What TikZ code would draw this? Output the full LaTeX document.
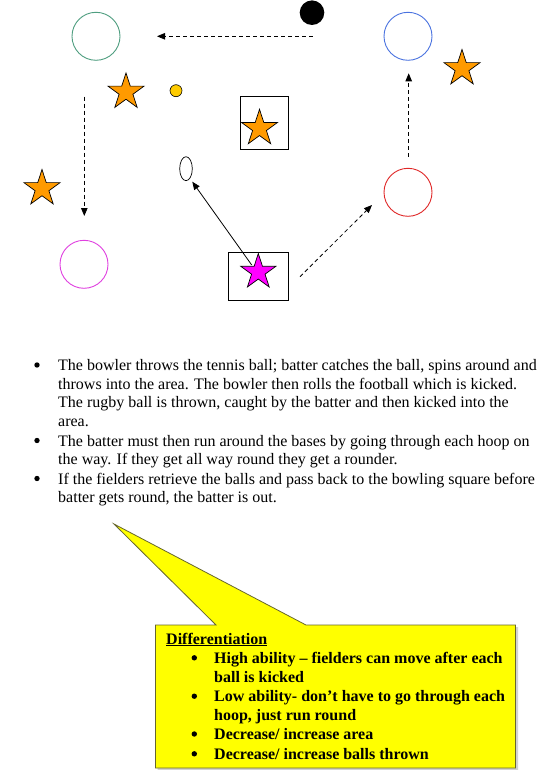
\documentclass[tikz,border=0pt]{standalone}
\usepackage{fontspec}
\setmainfont{Liberation Serif}
\usetikzlibrary{arrows.meta,shapes.geometric}
\definecolor{hoopgreen}{HTML}{4F9E80}
\definecolor{hoopblue}{HTML}{4A73E0}
\definecolor{hoopred}{HTML}{E02828}
\definecolor{hooppink}{HTML}{E040E0}
\definecolor{starorange}{HTML}{FF9A00}
\definecolor{starpink}{HTML}{FF00FF}
\definecolor{ballyellow}{HTML}{FFCC00}
\definecolor{calloutyellow}{HTML}{FFFF00}
\definecolor{calloutedge}{HTML}{66662E}
\tikzset{
  hoop/.style={circle, draw=#1, line width=0.9pt, minimum size=48pt, inner sep=0pt},
  fielder/.style={star, star points=5, star point ratio=2.618, draw=black, line width=0.7pt,
    fill=#1, minimum size=38pt, inner sep=0pt},
  squarebox/.style={draw=black, line width=0.9pt, inner sep=0pt},
  runarrow/.style={line width=0.8pt, dash pattern=on 4pt off 3pt, -{Triangle[length=8pt,width=6.5pt]}},
  throwarrow/.style={line width=0.8pt, -{Triangle[length=8pt,width=6.5pt]}},
  txt/.style={anchor=base west, inner sep=0pt, font=\fontsize{16}{18.5}\selectfont},
  btxt/.style={anchor=base west, inner sep=0pt, font=\fontsize{16}{18.5}\selectfont\bfseries},
  bul/.style={circle, fill=black, minimum size=5.4pt, inner sep=0pt},
}
\begin{document}
\begin{tikzpicture}[x=1pt, y=-1pt]
\useasboundingbox (0,0) rectangle (553,770);
\fill[white] (0,0) rectangle (553,770);

% boxes
\node[squarebox, minimum width=47.5pt, minimum height=52.5pt] (box1) at (264.5,123) {};
\node[squarebox, minimum width=60pt, minimum height=48pt] (box2) at (258.3,276.3) {};

% hoops
\node[hoop=hoopgreen] (hoopA) at (96,36.3) {};
\node[hoop=hoopblue] (hoopB) at (408,36.3) {};
\node[hoop=hoopred] (hoopC) at (408,192.3) {};
\node[hoop=hooppink] (hoopD) at (84,264.3) {};

% balls
\node[circle, fill=black, minimum size=24.6pt, inner sep=0pt] (football) at (312,12.7) {};
\node[circle, draw=black, fill=ballyellow, line width=0.6pt, minimum size=12pt, inner sep=0pt] (tennis) at (176,90.7) {};
\node[ellipse, draw=black, line width=0.7pt, minimum width=12.6pt, minimum height=24pt, inner sep=0pt] (rugby) at (186,168.7) {};

% fielders
\node[fielder=starorange] (f1) at (126,92) {};
\node[fielder=starorange] (f2) at (462,68.5) {};
\node[fielder=starorange] (f3) at (42,188.5) {};
\node[fielder=starorange] (f4) at (259.5,128.3) {};
\node[fielder=starpink, minimum size=37pt] (batter) at (258.3,272) {};

% arrows
\coordinate (a1s) at (312.7,36.3);
\coordinate (a1e) at (157,36.3);
\draw[runarrow] (a1s) -- (a1e);
\coordinate (a2s) at (84.3,96.7);
\coordinate (a2e) at (84.3,216);
\draw[runarrow] (a2s) -- (a2e);
\coordinate (a3s) at (300,276.7);
\coordinate (a3e) at (372,205);
\draw[runarrow] (a3s) -- (a3e);
\coordinate (a4s) at (408.7,156.7);
\coordinate (a4e) at (408.7,73.3);
\draw[runarrow] (a4s) -- (a4e);
\coordinate (a5s) at (251.7,265);
\coordinate (a5e) at (192.3,181.7);
\draw[throwarrow] (a5s) -- (a5e);

% instructions
\node[bul] (b1) at (37,365) {};
\node[txt] (t1) at (58,370.5) {The bowler throws the tennis ball; batter catches the ball, spins around and};
\node[txt] (t2) at (58,389) {throws into the area. The bowler then rolls the football which is kicked.};
\node[txt] (t3) at (58,407.5) {The rugby ball is thrown, caught by the batter and then kicked into the};
\node[txt] (t4) at (58,426) {area.};
\node[bul] (b2) at (37,440.5) {};
\node[txt] (t5) at (58,446) {The batter must then run around the bases by going through each hoop on};
\node[txt] (t6) at (58,464.5) {the way. If they get all way round they get a rounder.};
\node[bul] (b3) at (37,478.5) {};
\node[txt] (t7) at (58,484) {If the fielders retrieve the balls and pass back to the bowling square before};
\node[txt] (t8) at (58,502.5) {batter gets round, the batter is out.};

% callout
\fill[gray!35] (157.5,627) -- (218,627) -- (116,526) -- (308,627) -- (518,627) -- (518,770) -- (157.5,770) -- cycle;
\draw[calloutedge, fill=calloutyellow, line width=0.8pt, line join=miter]
  (155.5,625) -- (216,625) -- (114,524) -- (306,625) -- (515.5,625) -- (515.5,768) -- (155.5,768) -- cycle;
\node[btxt] (dh) at (166,644) {\underline{Differentiation}};
\node[bul] (c1) at (194.3,657.8) {};
\node[btxt] (d1) at (214,663.3) {High ability – fielders can move after each};
\node[btxt] (d2) at (214,682.5) {ball is kicked};
\node[bul] (c2) at (194.3,696.2) {};
\node[btxt] (d3) at (214,701.7) {Low ability- don’t have to go through each};
\node[btxt] (d4) at (214,720) {hoop, just run round};
\node[bul] (c3) at (194.3,734) {};
\node[btxt] (d5) at (214,739.5) {Decrease/ increase area};
\node[bul] (c4) at (194.3,753.8) {};
\node[btxt] (d6) at (214,759.3) {Decrease/ increase balls thrown};
\end{tikzpicture}
\end{document}
